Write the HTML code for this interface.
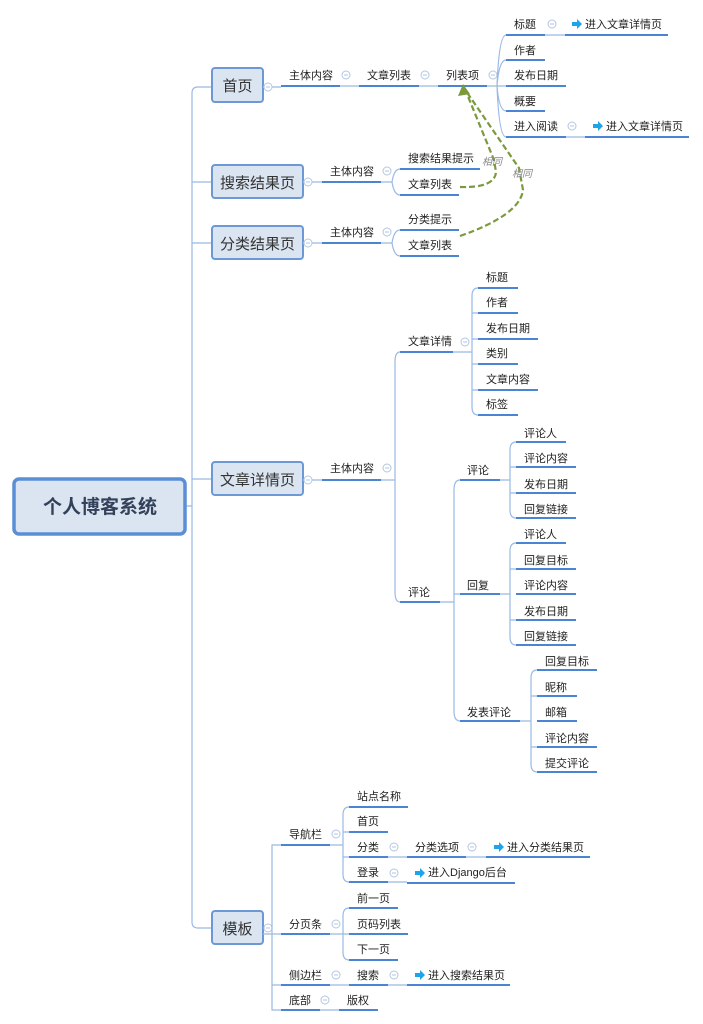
<!DOCTYPE html>
<html><head><meta charset="utf-8"><style>
html,body{margin:0;padding:0;background:#fff;}
svg{display:block;font-family:"Liberation Sans","Noto Sans CJK SC",sans-serif;}
.u{stroke:#4a84d2;stroke-width:2;fill:none}
.c{stroke:#9ab9e4;stroke-width:1.2;fill:none}
.t{font-size:11px;fill:#222}
.b{fill:#dbe5f1;stroke:#6c98d6;stroke-width:2}
.bt{font-size:15px;fill:#333}
.ci{fill:#fff;stroke:#b3c6e2;stroke-width:1}
.ar{fill:#1ea4ea}
</style></head><body>
<svg width="703" height="1024" viewBox="0 0 703 1024">
<defs>
<g id="m"><circle class="ci" r="4"/><line x1="-2" y1="0" x2="2" y2="0" stroke="#b3c6e2"/></g>
<polygon id="a" class="ar" points="0,-2 5,-2 5,-5 10,0 5,5 5,2 0,2"/>
</defs>

<!-- main spine -->
<path class="c" d="M186,506 H192 M212,87 H198 Q192,87 192,93 V922 Q192,928 198,928 H212 M192,182 H212 M192,243 H212 M192,479 H212"/>
<rect x="14" y="479" width="171" height="55" rx="5" fill="#dbe5f1" stroke="#5a8fd5" stroke-width="3.5"/>
<text x="100" y="513" text-anchor="middle" font-size="19" font-weight="bold" fill="#33415a">个人博客系统</text>

<!-- 首页 -->
<rect class="b" x="212" y="68" width="51" height="34" rx="3"/>
<text class="bt" x="237.5" y="91" text-anchor="middle">首页</text>
<path class="c" d="M263,87 H281 M340,86 H359 M419,86 H438 M487,86 H497 M545,35 H565 M566,137 H585"/>
<use href="#m" x="268" y="87"/>
<line class="u" x1="281" y1="86" x2="340" y2="86"/><text class="t" x="289" y="79">主体内容</text><use href="#m" x="346" y="75"/>
<line class="u" x1="359" y1="86" x2="419" y2="86"/><text class="t" x="367" y="79">文章列表</text><use href="#m" x="425" y="75"/>
<line class="u" x1="438" y1="86" x2="487" y2="86"/><text class="t" x="446" y="79">列表项</text><use href="#m" x="493" y="75"/>
<path class="c" d="M497,86 Q499,35 506,35 M497,86 Q499,60 506,60 M497,86 H506 M497,86 Q499,111 506,111 M497,86 Q499,137 506,137"/>
<line class="u" x1="506" y1="35" x2="545" y2="35"/><text class="t" x="514" y="28">标题</text><use href="#m" x="552" y="24"/>
<line class="u" x1="565" y1="35" x2="668" y2="35"/><use href="#a" x="572" y="24"/><text class="t" x="585" y="28">进入文章详情页</text>
<line class="u" x1="506" y1="60" x2="545" y2="60"/><text class="t" x="514" y="54">作者</text>
<line class="u" x1="506" y1="86" x2="566" y2="86"/><text class="t" x="514" y="79">发布日期</text>
<line class="u" x1="506" y1="111" x2="545" y2="111"/><text class="t" x="514" y="105">概要</text>
<line class="u" x1="506" y1="137" x2="566" y2="137"/><text class="t" x="514" y="130">进入阅读</text><use href="#m" x="572" y="126"/>
<line class="u" x1="585" y1="137" x2="689" y2="137"/><use href="#a" x="593" y="126"/><text class="t" x="606" y="130">进入文章详情页</text>

<!-- 搜索结果页 -->
<rect class="b" x="212" y="165" width="91" height="33" rx="3"/>
<text class="bt" x="257.5" y="188" text-anchor="middle">搜索结果页</text>
<path class="c" d="M303,182 H322 M381,182 H392 Q394,169 400,169 M392,182 Q394,195 400,195"/>
<use href="#m" x="308" y="182"/>
<line class="u" x1="322" y1="182" x2="381" y2="182"/><text class="t" x="330" y="175">主体内容</text><use href="#m" x="387" y="171"/>
<line class="u" x1="400" y1="169" x2="480" y2="169"/><text class="t" x="408" y="162">搜索结果提示</text>
<line class="u" x1="400" y1="195" x2="459" y2="195"/><text class="t" x="408" y="188">文章列表</text>

<!-- 分类结果页 -->
<rect class="b" x="212" y="226" width="91" height="33" rx="3"/>
<text class="bt" x="257.5" y="249" text-anchor="middle">分类结果页</text>
<path class="c" d="M303,243 H322 M381,243 H392 Q394,230 400,230 M392,243 Q394,256 400,256"/>
<use href="#m" x="308" y="243"/>
<line class="u" x1="322" y1="243" x2="381" y2="243"/><text class="t" x="330" y="236">主体内容</text><use href="#m" x="387" y="232"/>
<line class="u" x1="400" y1="230" x2="459" y2="230"/><text class="t" x="408" y="223">分类提示</text>
<line class="u" x1="400" y1="256" x2="459" y2="256"/><text class="t" x="408" y="249">文章列表</text>

<!-- dashed relations -->
<path d="M460,187 Q495,188 496,172 L494,160 L467,94" stroke="#7a9a3c" stroke-width="2.2" stroke-dasharray="6,3" fill="none"/>
<path d="M460,236 Q520,215 523,190 L519,168 L468,94" stroke="#7a9a3c" stroke-width="2.2" stroke-dasharray="6,3" fill="none"/>
<polygon points="463,84 458,96 470,94" fill="#7a9a3c"/>
<text x="482" y="165" font-size="10" font-style="italic" fill="#888">相同</text>
<text x="512" y="177" font-size="10" font-style="italic" fill="#888">相同</text>

<!-- 文章详情页 -->
<rect class="b" x="212" y="462" width="91" height="33" rx="3"/>
<text class="bt" x="257.5" y="485" text-anchor="middle">文章详情页</text>
<path class="c" d="M303,480 H322 M381,480 H395 M400,352 Q395,352 395,362 V592 Q395,602 400,602"/>
<use href="#m" x="308" y="480"/>
<line class="u" x1="322" y1="480" x2="381" y2="480"/><text class="t" x="330" y="472">主体内容</text><use href="#m" x="387" y="468"/>
<line class="u" x1="400" y1="352" x2="453" y2="352"/><text class="t" x="408" y="345">文章详情</text><use href="#m" x="465" y="342"/>
<path class="c" d="M453,352 H472 M478,288 Q472,288 472,296 V407 Q472,415 478,415 M472,313 H478 M472,339 H478 M472,364 H478 M472,390 H478"/>
<line class="u" x1="478" y1="288" x2="518" y2="288"/><text class="t" x="486" y="281">标题</text>
<line class="u" x1="478" y1="313" x2="518" y2="313"/><text class="t" x="486" y="306">作者</text>
<line class="u" x1="478" y1="339" x2="538" y2="339"/><text class="t" x="486" y="332">发布日期</text>
<line class="u" x1="478" y1="364" x2="518" y2="364"/><text class="t" x="486" y="357">类别</text>
<line class="u" x1="478" y1="390" x2="538" y2="390"/><text class="t" x="486" y="383">文章内容</text>
<line class="u" x1="478" y1="415" x2="518" y2="415"/><text class="t" x="486" y="408">标签</text>

<line class="u" x1="400" y1="602" x2="440" y2="602"/><text class="t" x="408" y="596">评论</text>
<path class="c" d="M440,602 H454 M460,480 Q454,480 454,490 V711 Q454,721 460,721 M454,594 H460"/>
<line class="u" x1="460" y1="480" x2="500" y2="480"/><text class="t" x="467" y="474">评论</text>
<line class="u" x1="460" y1="594" x2="500" y2="594"/><text class="t" x="467" y="589">回复</text>
<line class="u" x1="460" y1="721" x2="520" y2="721"/><text class="t" x="467" y="716">发表评论</text>
<path class="c" d="M500,480 H510 M516,442 Q510,442 510,450 V510 Q510,518 516,518 M510,467 H516 M510,493 H516"/>
<line class="u" x1="516" y1="442" x2="566" y2="442"/><text class="t" x="524" y="437">评论人</text>
<line class="u" x1="516" y1="467" x2="576" y2="467"/><text class="t" x="524" y="462">评论内容</text>
<line class="u" x1="516" y1="493" x2="576" y2="493"/><text class="t" x="524" y="488">发布日期</text>
<line class="u" x1="516" y1="518" x2="576" y2="518"/><text class="t" x="524" y="513">回复链接</text>
<path class="c" d="M500,594 H510 M516,543 Q510,543 510,551 V637 Q510,645 516,645 M510,569 H516 M510,620 H516"/>
<line class="u" x1="516" y1="543" x2="566" y2="543"/><text class="t" x="524" y="538">评论人</text>
<line class="u" x1="516" y1="569" x2="576" y2="569"/><text class="t" x="524" y="564">回复目标</text>
<line class="u" x1="516" y1="594" x2="576" y2="594"/><text class="t" x="524" y="589">评论内容</text>
<line class="u" x1="516" y1="620" x2="576" y2="620"/><text class="t" x="524" y="615">发布日期</text>
<line class="u" x1="516" y1="645" x2="576" y2="645"/><text class="t" x="524" y="640">回复链接</text>
<path class="c" d="M520,721 H531 M537,670 Q531,670 531,678 V764 Q531,772 537,772 M531,696 H537 M531,747 H537"/>
<line class="u" x1="537" y1="670" x2="597" y2="670"/><text class="t" x="545" y="665">回复目标</text>
<line class="u" x1="537" y1="696" x2="577" y2="696"/><text class="t" x="545" y="691">昵称</text>
<line class="u" x1="537" y1="721" x2="577" y2="721"/><text class="t" x="545" y="716">邮箱</text>
<line class="u" x1="537" y1="747" x2="597" y2="747"/><text class="t" x="545" y="742">评论内容</text>
<line class="u" x1="537" y1="772" x2="597" y2="772"/><text class="t" x="545" y="767">提交评论</text>

<!-- 模板 -->
<rect class="b" x="212" y="911" width="51" height="33" rx="3"/>
<text class="bt" x="237.5" y="934" text-anchor="middle">模板</text>
<use href="#m" x="268" y="928"/>
<path class="c" d="M263,934 H281 M281,845 H272 V1010 H281 M272,985 H281"/>
<line class="u" x1="281" y1="845" x2="330" y2="845"/><text class="t" x="289" y="838">导航栏</text><use href="#m" x="336" y="834"/>
<path class="c" d="M330,845 H343 M349,807 Q343,807 343,815 V874 Q343,882 349,882 M343,832 H349 M343,857 H349 M388,857 H407 M466,857 H486 M388,882 H407"/>
<line class="u" x1="349" y1="807" x2="408" y2="807"/><text class="t" x="357" y="800">站点名称</text>
<line class="u" x1="349" y1="832" x2="388" y2="832"/><text class="t" x="357" y="825">首页</text>
<line class="u" x1="349" y1="857" x2="388" y2="857"/><text class="t" x="357" y="851">分类</text><use href="#m" x="394" y="847"/>
<line class="u" x1="407" y1="857" x2="466" y2="857"/><text class="t" x="415" y="851">分类选项</text><use href="#m" x="472" y="847"/>
<line class="u" x1="486" y1="857" x2="590" y2="857"/><use href="#a" x="494" y="847"/><text class="t" x="507" y="851">进入分类结果页</text>
<line class="u" x1="349" y1="882" x2="388" y2="882"/><text class="t" x="357" y="876">登录</text><use href="#m" x="394" y="873"/>
<line class="u" x1="407" y1="883" x2="515" y2="883"/><use href="#a" x="415" y="873"/><text class="t" x="428" y="876">进入Django后台</text>

<line class="u" x1="281" y1="934" x2="330" y2="934"/><text class="t" x="289" y="928">分页条</text><use href="#m" x="336" y="924"/>
<path class="c" d="M330,934 H343 M349,908 Q343,908 343,916 V952 Q343,960 349,960 M343,934 H349"/>
<line class="u" x1="349" y1="908" x2="398" y2="908"/><text class="t" x="357" y="902">前一页</text>
<line class="u" x1="349" y1="934" x2="408" y2="934"/><text class="t" x="357" y="928">页码列表</text>
<line class="u" x1="349" y1="960" x2="398" y2="960"/><text class="t" x="357" y="953">下一页</text>

<path class="c" d="M330,985 H349 M388,985 H407 M320,1010 H339"/>
<line class="u" x1="281" y1="985" x2="330" y2="985"/><text class="t" x="289" y="979">侧边栏</text><use href="#m" x="336" y="975"/>
<line class="u" x1="349" y1="985" x2="388" y2="985"/><text class="t" x="357" y="979">搜索</text><use href="#m" x="394" y="975"/>
<line class="u" x1="407" y1="985" x2="510" y2="985"/><use href="#a" x="415" y="975"/><text class="t" x="428" y="979">进入搜索结果页</text>
<line class="u" x1="281" y1="1010" x2="320" y2="1010"/><text class="t" x="289" y="1004">底部</text><use href="#m" x="325" y="1000"/>
<line class="u" x1="339" y1="1010" x2="378" y2="1010"/><text class="t" x="347" y="1004">版权</text>
</svg>
</body></html>
